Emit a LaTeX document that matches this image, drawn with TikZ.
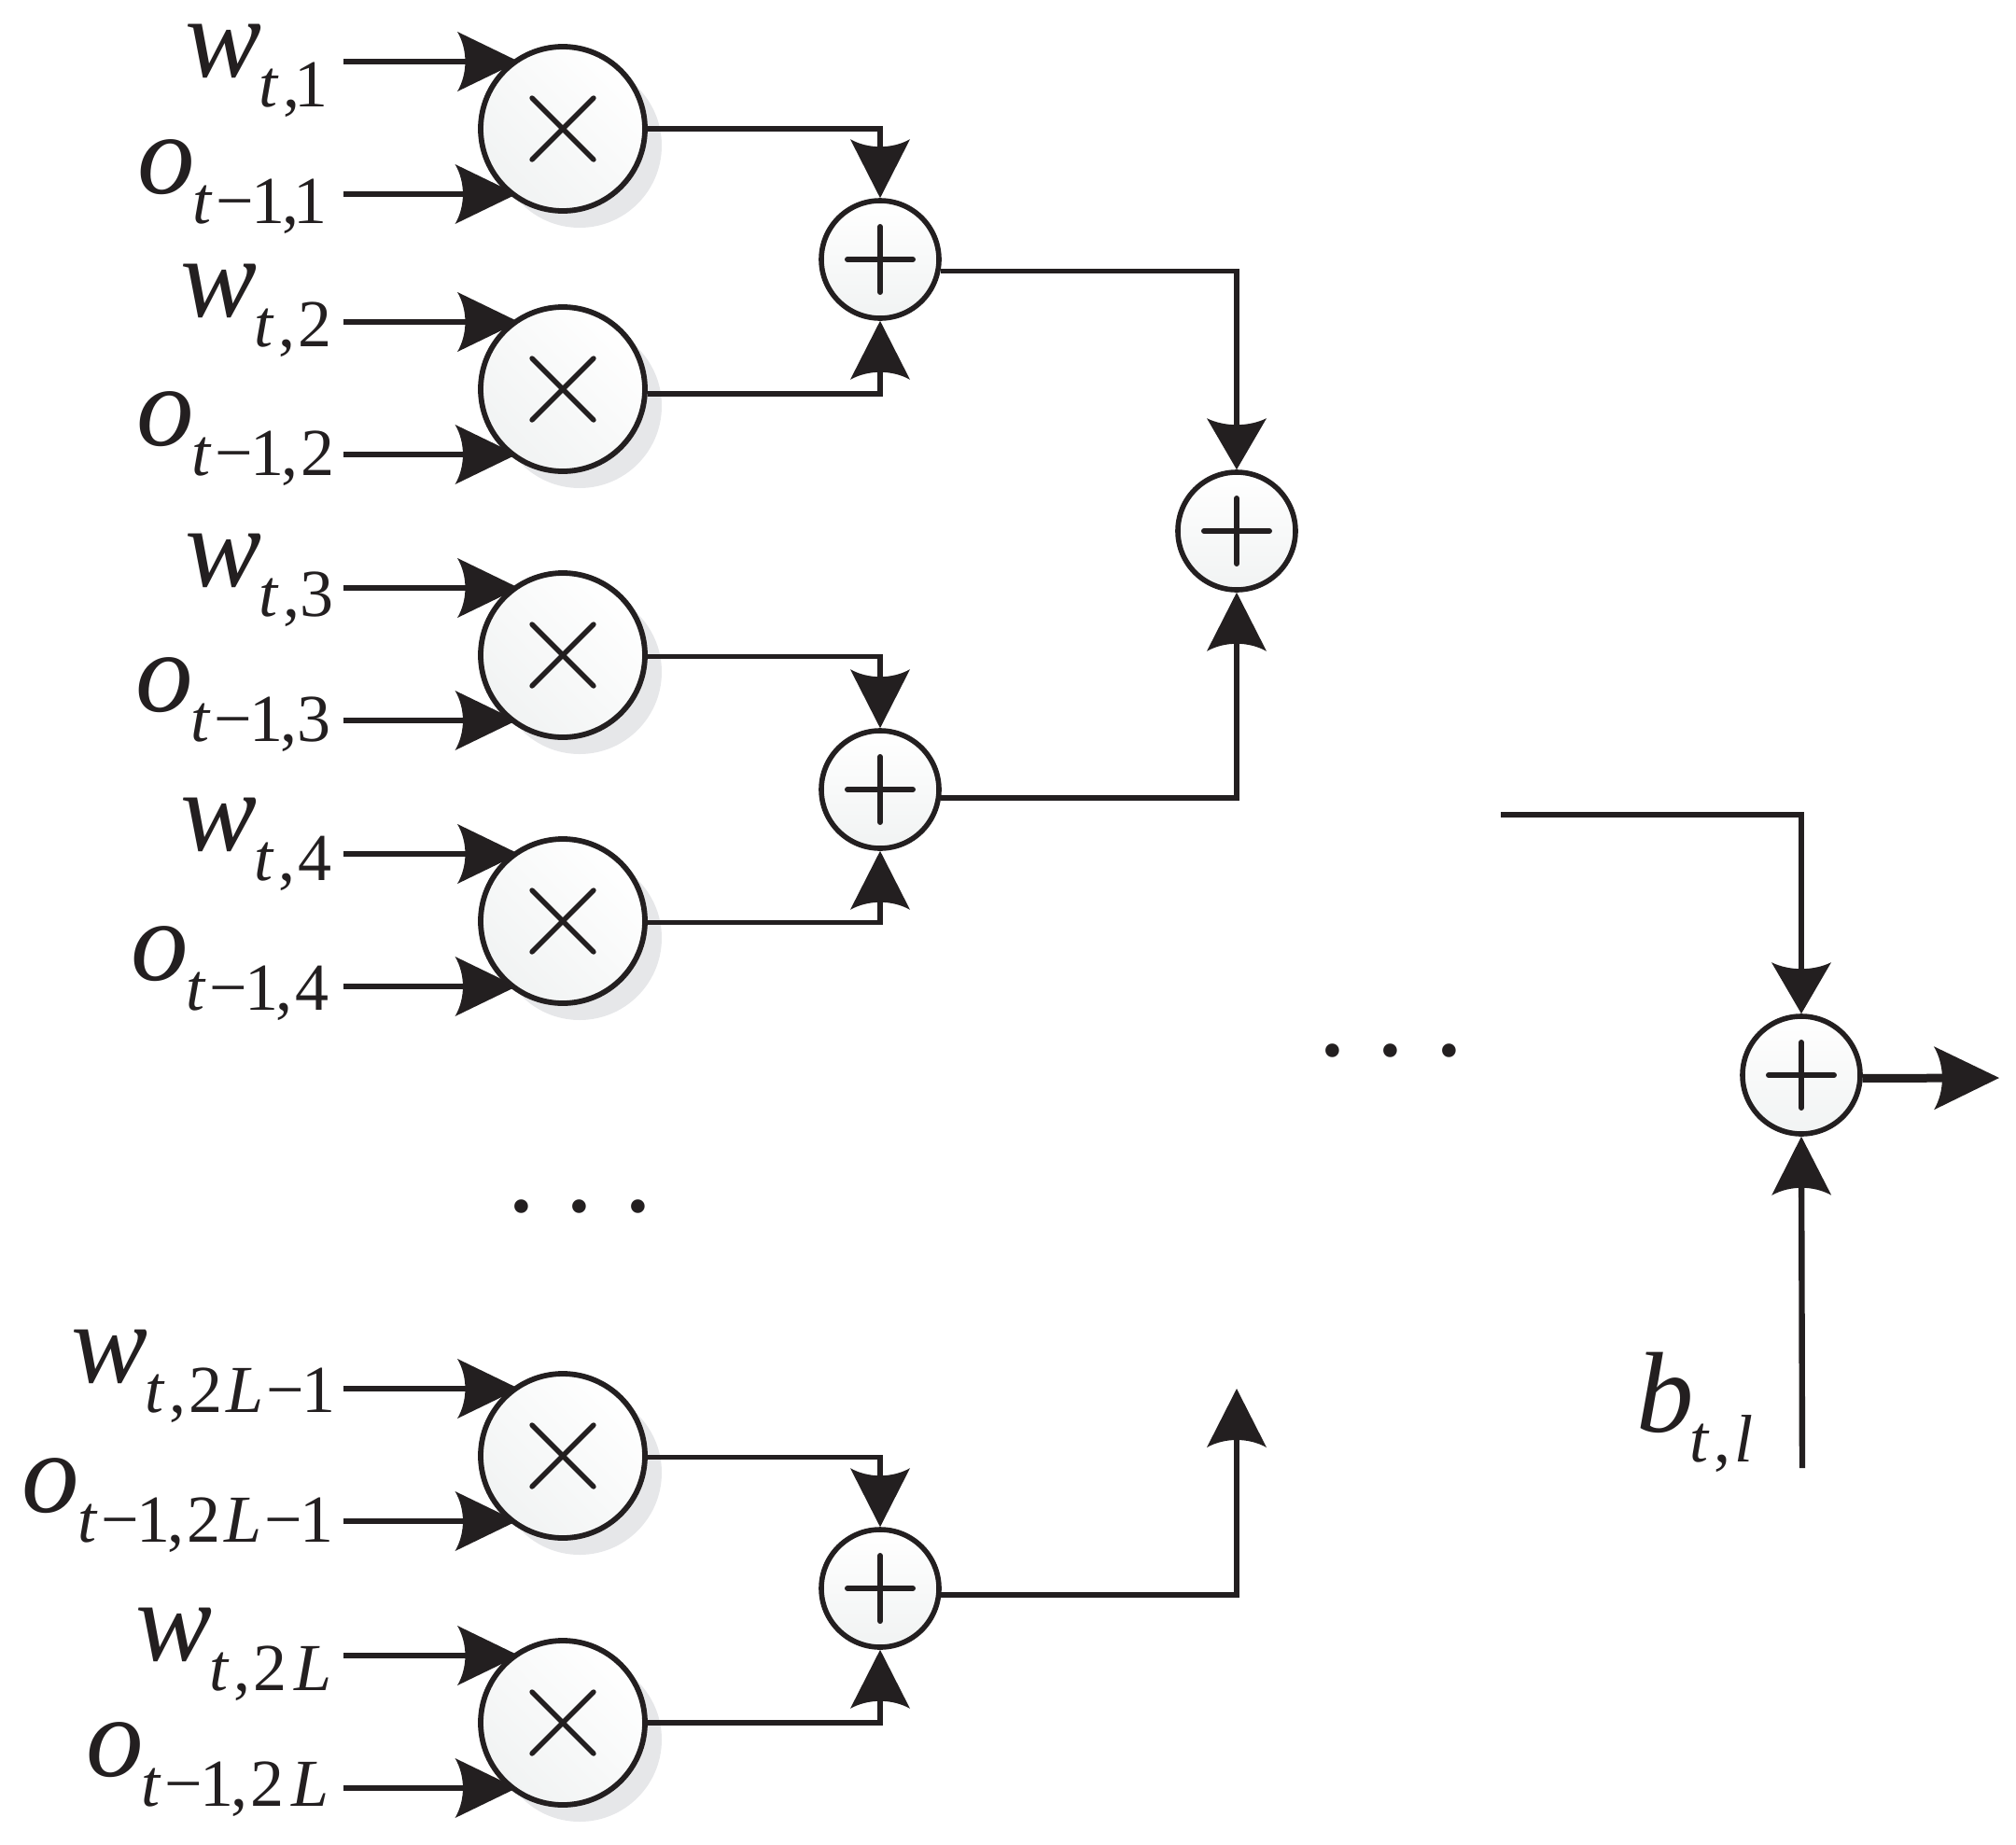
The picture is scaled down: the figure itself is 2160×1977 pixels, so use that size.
\documentclass[tikz,border=0pt]{standalone}
\usepackage{fontspec}
\setmainfont{Liberation Serif}
\usetikzlibrary{arrows.meta,shadows,backgrounds}
\definecolor{ink}{HTML}{231F20}
\definecolor{shadeg}{HTML}{F1F3F3}
\definecolor{shadowg}{HTML}{E6E7E9}
% arrow head with a curved back
\pgfdeclarearrow{
  name = CurveTip,
  setup code = {
    \pgfarrowssettipend{\pgfarrowlength}
    \pgfarrowssetbackend{0pt}
    \pgfarrowssetlineend{.3\pgfarrowlength}
    \pgfarrowssetvisualbackend{.1\pgfarrowlength}
    \pgfarrowssavethe\pgfarrowlength
    \pgfarrowssavethe\pgfarrowwidth
  },
  drawing code = {
    \pgfpathmoveto{\pgfqpoint{\pgfarrowlength}{0pt}}
    \pgfpathlineto{\pgfqpoint{0pt}{.5\pgfarrowwidth}}
    \pgfpathcurveto{\pgfqpoint{.17\pgfarrowlength}{.2\pgfarrowwidth}}{\pgfqpoint{.17\pgfarrowlength}{-.2\pgfarrowwidth}}{\pgfqpoint{0pt}{-.5\pgfarrowwidth}}
    \pgfpathclose
    \pgfusepathqfill
  },
  parameters = {\the\pgfarrowlength,\the\pgfarrowwidth},
  defaults = {length=30pt,width=32pt}
}
% main letter, kern, dropped subscript
\newcommand{\sigl}[3]{\textit{#1}\kern#2\raisebox{-16pt}{\fontsize{36}{40}\selectfont #3}}
\newcommand{\tcm}{\textit{t}\kern2.5pt,}
\newcommand{\tmo}{\textit{t}\kern2pt−\kern-1.5pt 1\kern-1.5pt,}
\newcommand{\one}{\kern-3pt 1}
\newcommand{\dig}[1]{\kern1.5pt #1}
\newcommand{\twol}{\kern1.5pt 2\kern4pt\textit{L}}
\newcommand{\twolm}{\kern1.5pt 2\kern2pt\textit{L}\kern1.5pt−\kern-1.5pt 1}
\tikzset{
  wire/.style={draw=ink,line width=2.8pt,line join=miter},
  tipin/.style={wire,line width=3.4pt,-{CurveTip[length=33pt,width=32pt]},shorten >=-4.5pt},
  tiplong/.style={wire,-{CurveTip[length=31.5pt,width=32pt]}},
  tipshort/.style={wire,-{CurveTip[length=27.5pt,width=32pt]}},
  tipend/.style={wire,line width=4.5pt,-{CurveTip[length=35pt,width=34pt]}},
  mult/.style={circle,draw=ink,line width=2.9pt,minimum size=88pt,inner sep=0pt,
    drop shadow={shadow xshift=9pt,shadow yshift=-9pt,fill=shadowg,opacity=1},
    shading=axis,top color=white,bottom color=shadeg,shading angle=-45,
    path picture={
      \draw[ink,line width=2.7pt,line cap=round]
        ([shift={(-16.5pt,16.5pt)}]path picture bounding box.center) -- ([shift={(16.5pt,-16.5pt)}]path picture bounding box.center)
        ([shift={(-16.5pt,-16.5pt)}]path picture bounding box.center) -- ([shift={(16.5pt,16.5pt)}]path picture bounding box.center);
    }},
  adder/.style={circle,draw=ink,line width=2.8pt,minimum size=63pt,inner sep=0pt,
    shading=axis,top color=white,bottom color=shadeg,
    path picture={
      \draw[ink,line width=3pt,line cap=round]
        ([xshift=-17.5pt]path picture bounding box.center) -- ([xshift=17.5pt]path picture bounding box.center)
        ([yshift=-17.5pt]path picture bounding box.center) -- ([yshift=17.5pt]path picture bounding box.center);
    }},
  lab/.style={anchor=base west,inner sep=0pt,outer sep=0pt,text=ink,font=\fontsize{61.5}{70}\selectfont},
}
\begin{document}
\begin{tikzpicture}[x=.5pt,y=-.5pt]
  \useasboundingbox (0,0) rectangle (2160,1977);
  % multipliers
  \node[mult] (m1) at (603,138) {};
  \node[mult] (m2) at (603,417) {};
  \node[mult] (m3) at (603,702) {};
  \node[mult] (m4) at (603,987) {};
  \node[mult] (m5) at (603,1560) {};
  \node[mult] (m6) at (603,1846) {};
  % adders
  \node[adder] (p1) at (943,278) {};
  \node[adder] (p2) at (943,846) {};
  \node[adder] (p3) at (943,1702) {};
  \node[adder] (p4) at (1325,569) {};
  \node[adder] (p5) at (1930,1152) {};
  % input labels
  \node[lab] (lw1) at (198,82) {\sigl{w}{-1.5pt}{\tcm\one}};
  \node[lab] (lo1) at (147,207) {\sigl{o}{-1pt}{\tmo\one}};
  \node[lab] (lw2) at (193,339) {\sigl{w}{-1.5pt}{\tcm\dig{2}}};
  \node[lab] (lo2) at (146,477) {\sigl{o}{-1pt}{\tmo\dig{2}}};
  \node[lab] (lw3) at (198,628) {\sigl{w}{-1.5pt}{\tcm\kern0pt 3}};
  \node[lab] (lo3) at (145,762) {\sigl{o}{-1pt}{\tmo\kern0pt 3}};
  \node[lab] (lw4) at (193,911) {\sigl{w}{-1.5pt}{\tcm\dig{4}}};
  \node[lab] (lo4) at (140,1050) {\sigl{o}{-1pt}{\tmo\dig{4}}};
  \node[lab] (lw5) at (76,1481) {\sigl{w}{-1.5pt}{\tcm\twolm}};
  \node[lab] (lo5) at (24,1620) {\sigl{o}{-1pt}{\tmo\twolm}};
  \node[lab] (lw6) at (145,1779) {\sigl{w}{-1.5pt}{\tcm\twol}};
  \node[lab] (lo6) at (92,1903) {\sigl{o}{-1pt}{\tmo\twol}};
  \node[lab] (lb) at (1753,1534) {\sigl{b}{-2pt}{\tcm\kern2pt\textit{l}}};
  % ellipses
  \node[lab] (dl) at (543,1298) {.\kern16pt.\kern16pt.};
  \node[lab] (dr) at (1412,1131) {.\kern16pt.\kern16pt.};
  % free ends
  \coordinate (iw1) at (368,66);   \coordinate (io1) at (368,208);
  \coordinate (iw2) at (368,345);  \coordinate (io2) at (368,487);
  \coordinate (iw3) at (368,630);  \coordinate (io3) at (368,772);
  \coordinate (iw4) at (368,915);  \coordinate (io4) at (368,1057);
  \coordinate (iw5) at (368,1488); \coordinate (io5) at (368,1630);
  \coordinate (iw6) at (368,1774); \coordinate (io6) at (368,1916);
  \coordinate (up) at (1325,1488);
  \coordinate (fold) at (1608,873);
  \coordinate (bin) at (1931,1573);
  \coordinate (out) at (2142,1155);
  % input arrows run under the multipliers
  \begin{scope}[on background layer]
    \foreach \i in {1,...,6} {
      \draw[tipin] (iw\i) -- (iw\i -| m\i.128);
      \draw[tipin] (io\i) -- (io\i -| m\i.230);
    }
  \end{scope}
  % multiplier to adder
  \draw[tiplong] (m1.east) -| (p1.north);
  \draw[tiplong] (m2.-3) -| (p1.south);
  \draw[tiplong] (m3.-1) -| (p2.north);
  \draw[tiplong] (m4.-1) -| (p2.south);
  \draw[tiplong] (m5.-1) -| (p3.north);
  \draw[tiplong] (m6.east) -| (p3.south);
  % adder tree
  \draw[tipshort] (p1.-11) -| (p4.north);
  \draw[tiplong] (p2.-8) -| (p4.south);
  \draw[tiplong] (p3.-6) -| (up);
  \draw[tipshort] (fold) -| (p5.north);
  \draw[tiplong,line width=3.2pt] (bin) -- (p5.south);
  \draw[tipend] (p5.-3) -- (out);
\end{tikzpicture}
\end{document}
